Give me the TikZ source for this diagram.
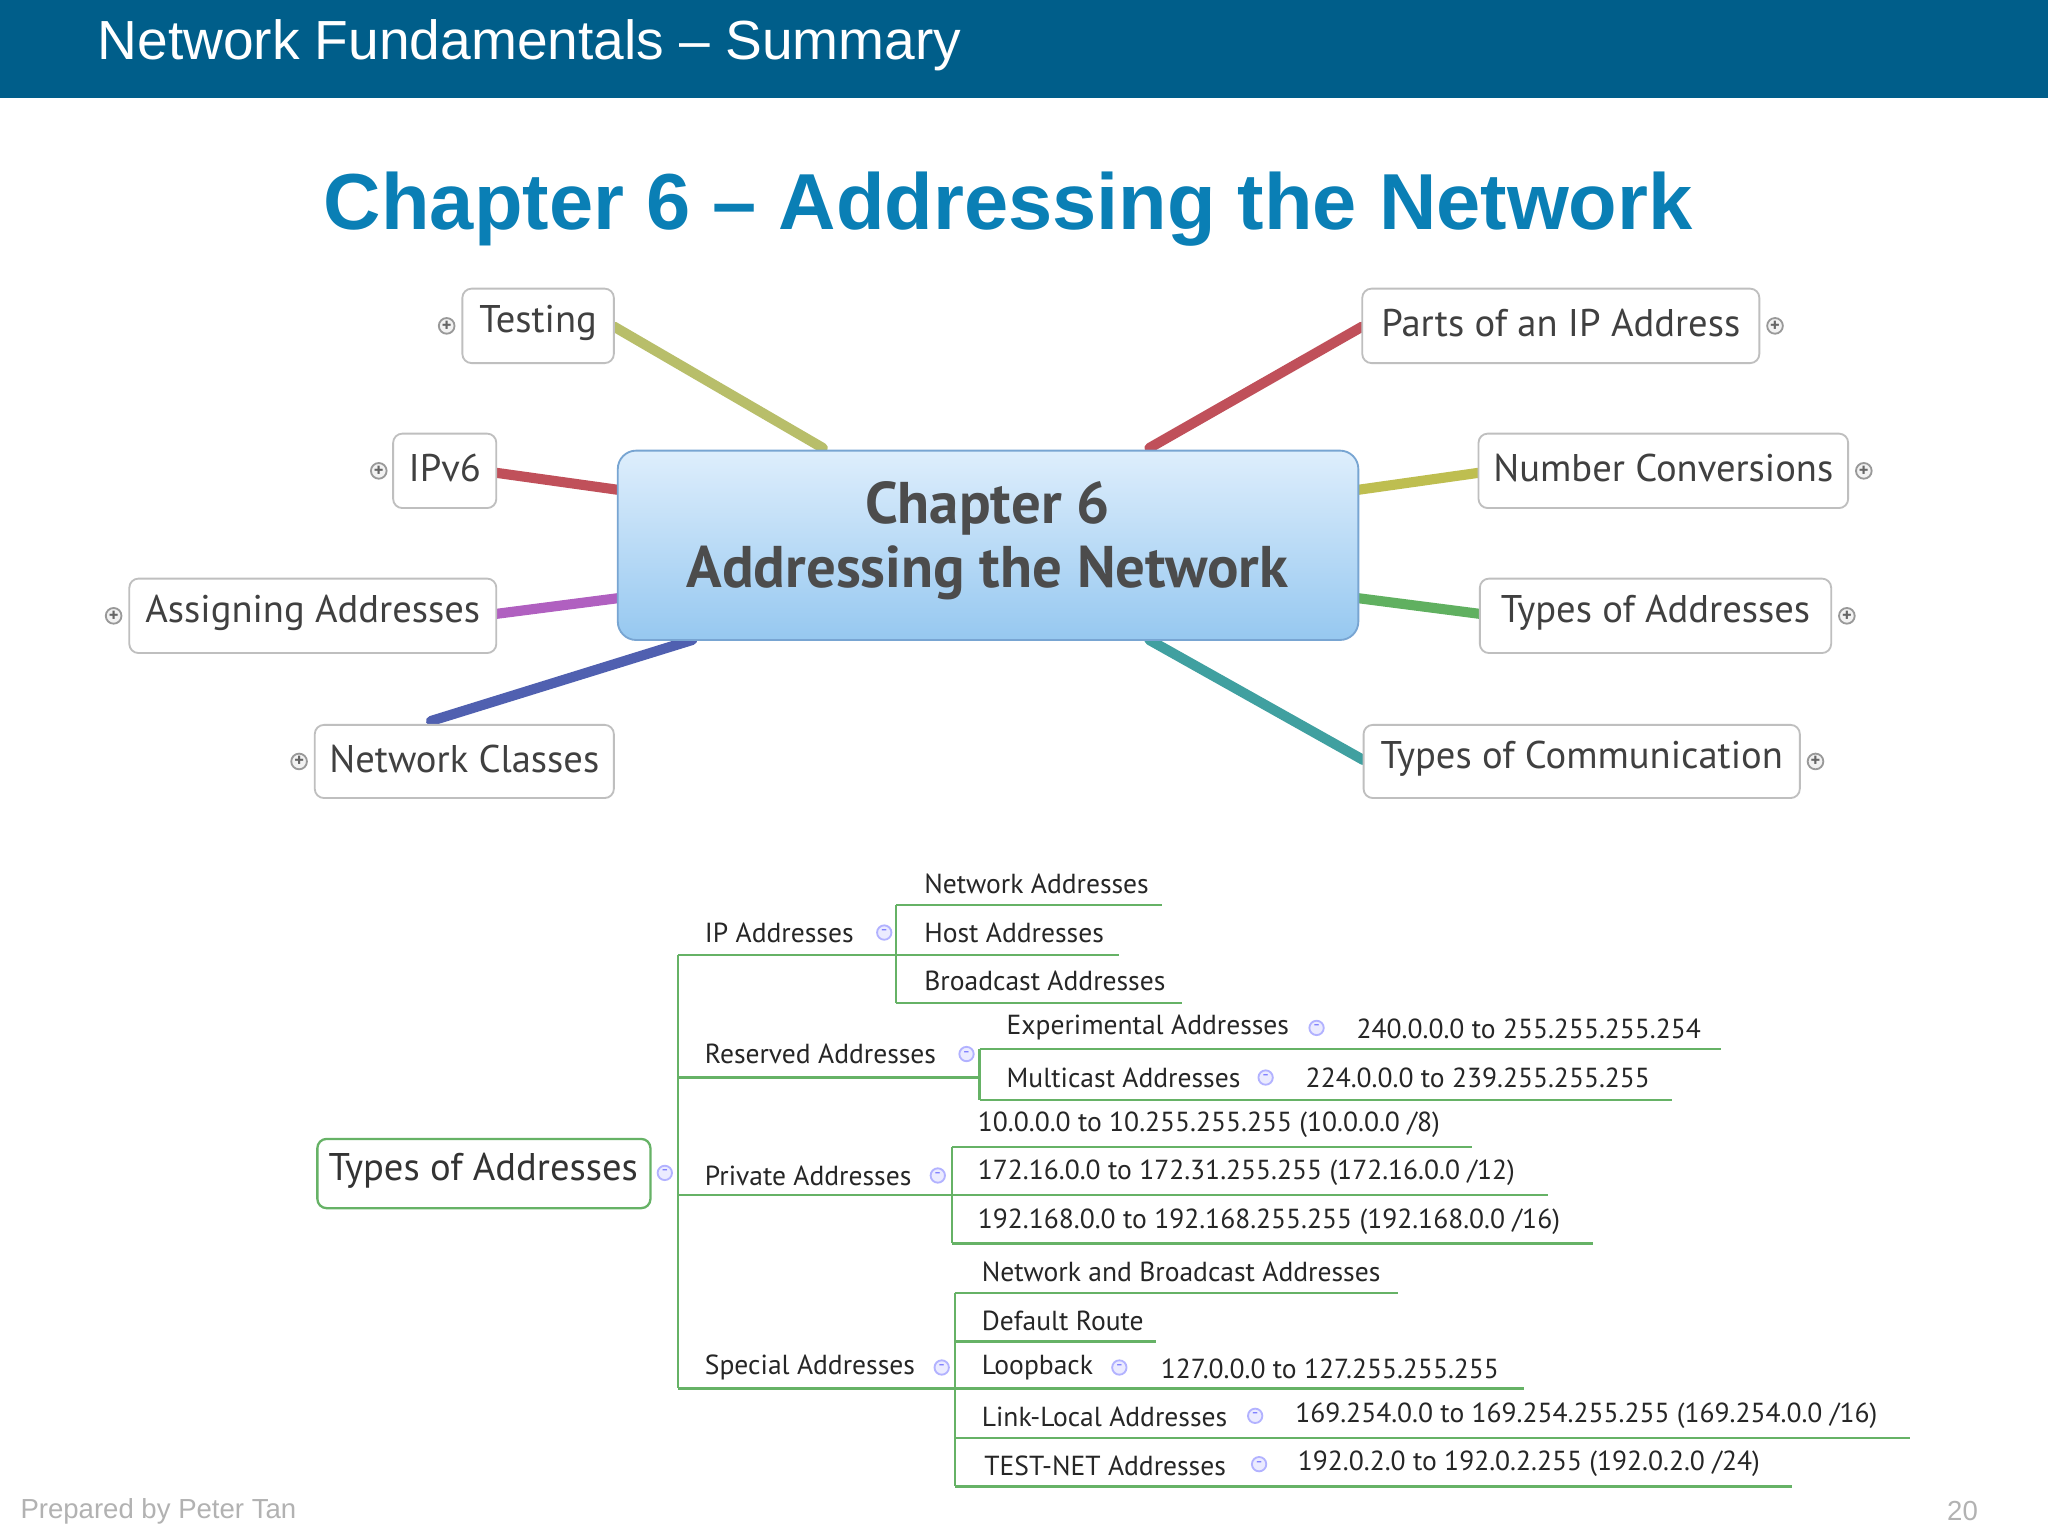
\documentclass[tikz,border=0pt]{standalone}
\usepackage{fontspec}
\setmainfont{PT Sans}
\newfontfamily\hdr{Liberation Sans}
\begin{document}
\begin{tikzpicture}[x=0.01cm,y=-0.01cm,
  pl/.style={circle,draw=black!40,fill=black!5,inner sep=0pt,minimum size=0.12cm,font=\fontsize{4}{4}\selectfont\bfseries,text=black!60},
  con/.style={line width=2.2pt,line cap=round},
  bl/.style={font=\fontsize{8.4}{10}\selectfont,text=black!75},
  tl/.style={draw=green!50!black!60,line width=0.5pt},
  tx/.style={anchor=west,font=\fontsize{6}{7}\selectfont,text=black!85,inner sep=0pt},
  mn/.style={circle,draw=blue!30,fill=blue!8,inner sep=0pt,minimum size=0.11cm,font=\fontsize{4}{4}\selectfont,text=blue!50}]
\useasboundingbox (0,0) rectangle (1568,1176);
\fill[white] (0,0) rectangle (1568,1176);
\fill[fill={rgb,255:red,0;green,94;blue,138}] (0,0) rectangle (1568,75);
\node[anchor=west,inner sep=0pt,text=white,font=\hdr\fontsize{12}{14}\selectfont] (hd) at (74,35) {Network Fundamentals – Summary};
\node[text={rgb,255:red,10;green,127;blue,181},font=\hdr\bfseries\fontsize{17.3}{20}\selectfont] (ti) at (772,160) {Chapter 6 – Addressing the Network};
% connectors
\draw[con,draw={rgb,255:red,184;green,190;blue,106}] (470,250) -- (630,343);
\draw[con,draw={rgb,255:red,192;green,80;blue,90}] (1043,250) -- (880,343);
\draw[con,draw={rgb,255:red,192;green,80;blue,90}] (380,362) -- (473,375);
\draw[con,draw={rgb,255:red,190;green,190;blue,80}] (1132,362) -- (1040,375);
\draw[con,draw={rgb,255:red,176;green,96;blue,192}] (380,470) -- (473,458);
\draw[con,draw={rgb,255:red,96;green,176;blue,96}] (1133,470) -- (1040,458);
\draw[con,draw={rgb,255:red,80;green,96;blue,176}] (330,552) -- (530,490);
\draw[con,draw={rgb,255:red,64;green,160;blue,160}] (1044,582) -- (880,490);
% center
\shade[top color={rgb,255:red,222;green,238;blue,252},bottom color={rgb,255:red,150;green,200;blue,240},draw={rgb,255:red,120;green,165;blue,210},rounded corners=4pt] (473,345) rectangle (1040,490);
\node[align=center,font=\bfseries\fontsize{12.8}{13.8}\selectfont,text=black!70] (c) at (756,414) {Chapter 6\\Addressing the Network};
% branches
\foreach \n/\a/\b/\c/\d/\t/\px in {
 t/354/221/470/278/Testing/342,
 i/301/332/380/389/IPv6/290,
 a/99/443/380/500/Assigning Addresses/87,
 n/241/555/470/611/Network Classes/229,
 p/1043/221/1347/278/Parts of an IP Address/1359,
 nc/1132/332/1415/389/Number Conversions/1427,
 ta/1133/443/1402/500/Types of Addresses/1414,
 tc/1044/555/1378/611/Types of Communication/1390}{
 \draw[draw=black!25,rounded corners=2pt,fill=white] (\a,\b) rectangle (\c,\d);
 \node[bl] (\n) at ({(\a+\c)/2},{(\b+\d)/2-2}) {\t};
 \node[pl] (\n p) at (\px,{(\b+\d)/2}) {+};}
% lower tree
\draw[tl,rounded corners=2pt] (243,872) rectangle (498,925);
\node[font=\fontsize{8.4}{10}\selectfont,text=black!80] (root) at (370,896) {Types of Addresses};
\node[mn] (rm) at (509,898) {-};
\draw[tl] (519,731) -- (519,1063);
\draw[tl] (519,731) -- (686,731) (519,825) -- (750,825) (519,915) -- (729,915) (519,1063) -- (731,1063);
\node[tx] (ip) at (539,714) {IP Addresses}; \node[mn] at (677,714) {-};
\node[tx] (ra) at (539,807) {Reserved Addresses}; \node[mn] at (740,807) {-};
\node[tx] (pa) at (539,900) {Private Addresses}; \node[mn] at (718,900) {-};
\node[tx] (sa) at (539,1047) {Special Addresses}; \node[mn] at (721,1047) {-};
% IP
\draw[tl] (686,693) -- (686,768) (686,693) -- (890,693) (686,731) -- (857,731) (686,768) -- (905,768);
\node[tx] at (707,677) {Network Addresses};
\node[tx] at (707,714) {Host Addresses};
\node[tx] at (707,751) {Broadcast Addresses};
% Reserved
\draw[tl] (750,803) -- (750,842) (750,803) -- (1318,803) (750,842) -- (1280,842);
\node[tx] at (770,787) {Experimental Addresses}; \node[mn] at (1008,787) {-};
\node[tx] at (1038,788) {240.0.0.0 to 255.255.255.254};
\node[tx] at (770,825) {Multicast Addresses}; \node[mn] at (969,825) {-};
\node[tx] at (999,825) {224.0.0.0 to 239.255.255.255};
% Private
\draw[tl] (729,878) -- (729,952) (729,878) -- (1127,878) (729,915) -- (1185,915) (729,952) -- (1220,952);
\node[tx] at (748,861) {10.0.0.0 to 10.255.255.255 (10.0.0.0 /8)};
\node[tx] at (748,898) {172.16.0.0 to 172.31.255.255 (172.16.0.0 /12)};
\node[tx] at (748,935) {192.168.0.0 to 192.168.255.255 (192.168.0.0 /16)};
% Special
\draw[tl] (731,990) -- (731,1138) (731,990) -- (1070,990) (731,1027) -- (885,1027) (731,1063) -- (1167,1063) (731,1101) -- (1462,1101) (731,1138) -- (1372,1138);
\node[tx] at (751,974) {Network and Broadcast Addresses};
\node[tx] at (751,1011) {Default Route};
\node[tx] at (751,1047) {Loopback}; \node[mn] at (857,1047) {-};
\node[tx] at (888,1048) {127.0.0.0 to 127.255.255.255};
\node[tx] at (751,1085) {Link-Local Addresses}; \node[mn] at (961,1084) {-};
\node[tx] at (991,1084) {169.254.0.0 to 169.254.255.255 (169.254.0.0 /16)};
\node[tx] at (753,1122) {TEST-NET Addresses}; \node[mn] at (964,1121) {-};
\node[tx] at (993,1121) {192.0.2.0 to 192.0.2.255 (192.0.2.0 /24)};
% footer
\node[anchor=west,inner sep=0pt,text=black!30,font=\hdr\fontsize{6}{7}\selectfont] (ft) at (15,1157) {Prepared by Peter Tan};
\node[anchor=east,inner sep=0pt,text=black!30,font=\hdr\fontsize{6}{7}\selectfont] (pg) at (1515,1157) {20};
\end{tikzpicture}
\end{document}
